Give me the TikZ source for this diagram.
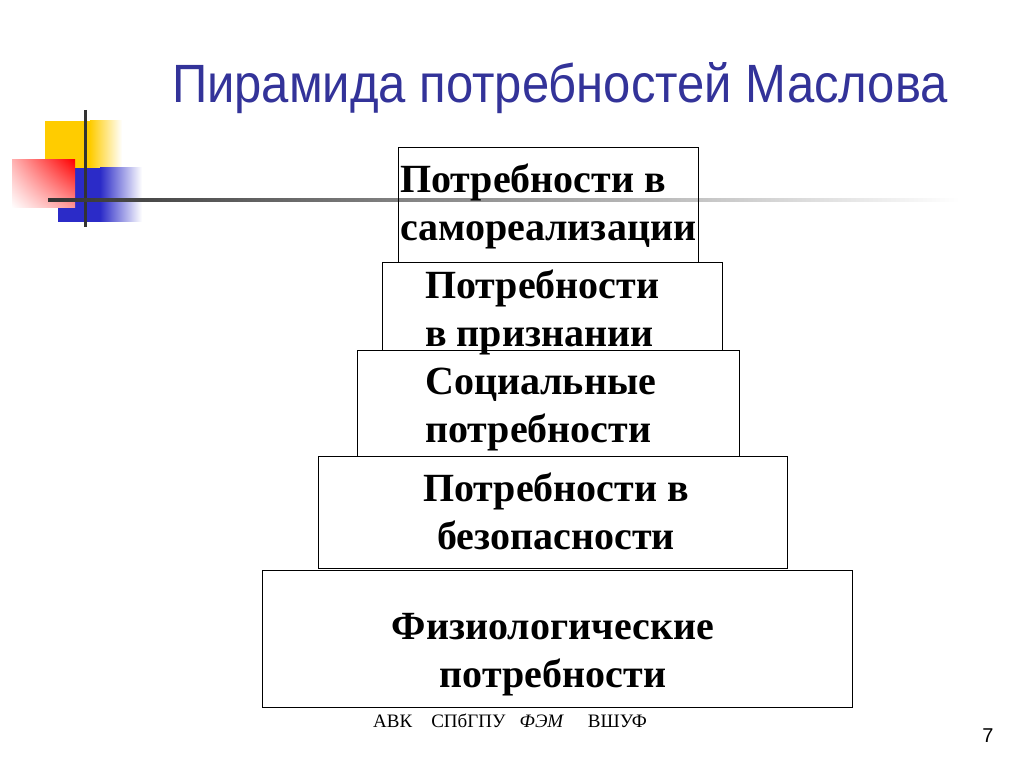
\documentclass[tikz,border=0pt]{standalone}
\usepackage{fontspec}
\usetikzlibrary{shadings}
\setmainfont{Liberation Serif}
\newfontfamily\sansf{Liberation Sans}
\definecolor{gold}{HTML}{FFCC00}
\definecolor{dblue}{HTML}{2B2BC8}
\definecolor{ttl}{HTML}{333399}
\begin{document}
\begin{tikzpicture}[x=1pt,y=-1pt,
  lvl/.style={draw,line width=1pt},
  lbl/.style={font=\fontsize{40}{48}\selectfont\bfseries,align=left,anchor=west,inner sep=0pt}]
\useasboundingbox (0,0) rectangle (1024,767);
% decoration
\shade[left color=gold,right color=white] (90,121) rectangle (122,170);
\fill[gold] (45,121) rectangle (90,170);
\shade[left color=dblue,right color=white] (100,168) rectangle (142,222);
\fill[dblue] (58,168) rectangle (100,222);
\shade[upper right=red,lower left=white,upper left=red!30,lower right=red!40] (12,160) rectangle (75,208);
\draw[line width=3pt,black!80] (85,110) -- (85,227);
\shade[left color=black!80,right color=white] (48,198.5) rectangle (960,201.5);
\node[font=\sansf\fontsize{49}{50}\selectfont,text=ttl,yscale=1.1] (t) at (560,88) {Пирамида потребностей Маслова};
% levels
\draw[lvl] (398,148) rectangle (698,262);
\draw[lvl] (382,262) rectangle (722,350);
\draw[lvl] (357,350) rectangle (739,456);
\draw[lvl] (318,456) rectangle (787,568);
\draw[lvl] (262,570) rectangle (852,707);
\node[lbl,anchor=north west] (a) at (400,164) {Потребности в\\самореализации};
\node[lbl,anchor=north west] (b) at (425,270) {Потребности\\в признании};
\node[lbl,anchor=north west] (c) at (425,368) {Социальные\\потребности};
\node[lbl,align=center,anchor=north] (d) at (556,473) {Потребности в\\безопасности};
\node[lbl,align=center,anchor=north] (e) at (553,613) {Физиологические\\потребности};
\node[font=\fontsize{19}{20}\selectfont] (f) at (510,721) {АВК\ \ \ \ СПбГПУ\ \ \ \textit{ФЭМ}\ \ \ \ \ ВШУФ};
\node[font=\sansf\fontsize{20}{22}\selectfont] (n) at (988,736) {7};
\end{tikzpicture}
\end{document}
